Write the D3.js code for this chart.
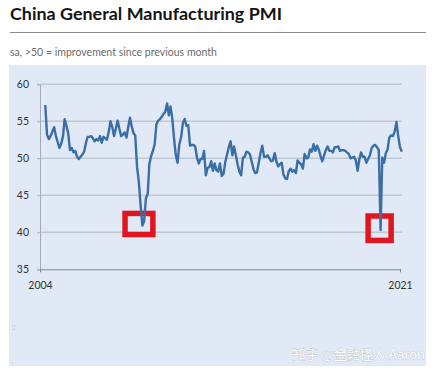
<!DOCTYPE html>
<html>
<head>
<meta charset="utf-8">
<script src="https://cdn.jsdelivr.net/npm/d3@7"></script>
<style>
  html, body { margin: 0; padding: 0; background: #fff; }
  svg { display: block; }
</style>
</head>
<body>
<svg id="chart" width="437" height="374"></svg>
<script>
// monthly PMI, first reading is April 2004, last is Feb 2021
const START_YEAR = 2004;
const START_MONTH = 3; // 0-based, April

const pmiValues = [
  // 2004 (Apr-Dec)
  57.2, 53.2, 52.6, 53.0, 53.6, 54.2, 53.0, 52.2, 51.4,
  // 2005
  52.0, 53.0, 55.3, 54.4, 53.4, 51.1, 51.4, 50.8, 51.0, 50.2, 49.9, 50.2,
  // 2006
  50.5, 50.9, 52.0, 52.9, 52.9, 53.0, 52.7, 52.3, 52.6, 52.4, 53.0, 52.1,
  // 2007
  52.9, 52.7, 52.5, 53.6, 55.0, 54.2, 53.0, 54.0, 55.1, 54.0, 53.0, 53.2,
  // 2008
  53.5, 52.8, 54.2, 55.5, 54.3, 53.4, 53.1, 48.8, 46.8, 43.7, 40.9, 41.5,
  // 2009
  44.6, 45.2, 49.2, 50.3, 51.0, 51.9, 54.6, 55.1, 55.3, 55.6, 56.0, 56.3,
  // 2010
  57.4, 55.8, 57.0, 55.4, 52.7, 50.4, 49.4, 51.9, 52.9, 54.8, 55.3, 54.4,
  // 2011
  54.5, 51.7, 51.8, 51.8, 51.6, 50.1, 49.3, 49.9, 49.9, 51.0, 47.7, 48.7,
  // 2012
  48.8, 49.6, 48.3, 49.3, 48.4, 48.2, 49.3, 47.6, 47.9, 49.5, 50.5, 51.5,
  // 2013
  52.3, 50.4, 51.6, 50.4, 49.2, 48.2, 47.7, 50.1, 50.2, 50.9, 50.8, 50.5,
  // 2014
  49.5, 48.5, 48.0, 48.1, 49.4, 50.7, 51.7, 50.2, 50.2, 50.4, 50.0, 49.6,
  // 2015
  49.7, 50.7, 49.6, 48.9, 49.2, 49.4, 47.8, 47.3, 47.2, 48.3, 48.6, 48.2,
  // 2016
  48.4, 48.0, 49.7, 49.4, 49.2, 48.6, 50.6, 50.0, 50.1, 51.2, 50.9, 51.9,
  // 2017
  51.0, 51.7, 51.2, 50.3, 49.6, 50.4, 51.1, 51.6, 51.0, 51.0, 50.8, 51.5,
  // 2018
  51.5, 51.6, 51.0, 51.1, 51.1, 51.0, 50.8, 50.6, 50.0, 50.1, 50.2, 49.7,
  // 2019
  48.3, 49.9, 50.8, 50.2, 50.2, 49.4, 49.9, 50.4, 51.4, 51.7, 51.8, 51.5,
  // 2020
  51.1, 40.3, 50.1, 49.4, 50.7, 51.2, 52.8, 53.1, 53.0, 53.6, 54.9, 53.0,
  // 2021
  51.5, 50.9,
];

const yTicks = [35, 40, 45, 50, 55, 60];
const xTickYears = [2004, 2021];

// red boxes drawn over the two lows (date range + value range)
const highlightBoxes = [
  { from: [2008, 0, 7], to: [2009, 4, 1], low: 39.7, high: 42.55 },
  { from: [2019, 6, 1], to: [2020, 7, 1], low: 38.9, high: 42.2 },
];

const titleText = 'China General Manufacturing PMI';
const subtitleText = 'sa, >50 = improvement since previous month';
const watermarkText = '知乎 @金融怪人 Aaron';

const data = pmiValues.map((v, i) => ({
  date: new Date(START_YEAR, START_MONTH + i, 1),
  value: v,
}));

const svg = d3.select('#chart');

// header
svg.append('text')
  .attr('x', 10)
  .attr('y', 19.5)
  .attr('font-family', 'Lato, "Open Sans", sans-serif')
  .attr('font-weight', 'bold')
  .attr('font-size', 16.8)
  .attr('fill', '#141414')
  .attr('textLength', 272)
  .attr('lengthAdjust', 'spacingAndGlyphs')
  .text(titleText);

svg.append('line')
  .attr('x1', 10).attr('x2', 426)
  .attr('y1', 32.5).attr('y2', 32.5)
  .attr('stroke', '#8c8c8c')
  .attr('stroke-width', 1);

svg.append('text')
  .attr('x', 10)
  .attr('y', 56)
  .attr('font-family', 'Lato, "Open Sans", sans-serif')
  .attr('font-size', 10.5)
  .attr('fill', '#6b6b6b')
  .attr('textLength', 207)
  .attr('lengthAdjust', 'spacingAndGlyphs')
  .text(subtitleText);

// panel
svg.append('rect')
  .attr('x', 9).attr('y', 65)
  .attr('width', 417).attr('height', 301)
  .attr('fill', '#e0e9f5');

const x = d3.scaleTime()
  .domain([new Date(2004, 0, 1), new Date(2021, 0, 1)])
  .range([40, 400]);

const y = d3.scaleLinear()
  .domain([35, 60])
  .range([269.3, 84.3]);

// grid
svg.append('g')
  .selectAll('line')
  .data(yTicks.filter(t => t !== 35))
  .join('line')
  .attr('x1', 40).attr('x2', 402)
  .attr('y1', d => y(d)).attr('y2', d => y(d))
  .attr('stroke', '#c2c8d1')
  .attr('stroke-width', 1.5);

// y axis
const yAxis = svg.append('g')
  .attr('transform', 'translate(40,0)')
  .call(d3.axisLeft(y).tickValues(yTicks).tickSize(3).tickPadding(8));
yAxis.select('.domain').attr('stroke', '#a3abb6');
yAxis.selectAll('.tick line').attr('stroke', '#a3abb6');
yAxis.selectAll('text')
  .attr('font-family', 'Lato, "Open Sans", sans-serif')
  .attr('font-size', 10.5)
  .attr('fill', '#333');

// x axis
const xAxis = svg.append('g')
  .attr('transform', `translate(0,${y(35)})`)
  .call(d3.axisBottom(x)
    .tickValues(xTickYears.map(yr => new Date(yr, 0, 1)))
    .tickFormat(d3.timeFormat('%Y'))
    .tickSize(3)
    .tickPadding(9));
xAxis.select('.domain').attr('stroke', '#7d8894').attr('d', `M40,0.5H401`);
xAxis.selectAll('.tick line').attr('stroke', '#7d8894');
xAxis.selectAll('text')
  .attr('font-family', 'Lato, "Open Sans", sans-serif')
  .attr('font-size', 10.5)
  .attr('fill', '#333');

// red annotation boxes
svg.append('g')
  .selectAll('rect')
  .data(highlightBoxes)
  .join('rect')
  .attr('x', d => x(new Date(...d.from)))
  .attr('y', d => y(d.high))
  .attr('width', d => x(new Date(...d.to)) - x(new Date(...d.from)))
  .attr('height', d => y(d.low) - y(d.high))
  .attr('fill', 'none')
  .attr('stroke', '#e0161e')
  .attr('stroke-width', 5.5);

// pmi line
const line = d3.line()
  .x(d => x(d.date))
  .y(d => y(d.value));

svg.append('path')
  .datum(data)
  .attr('d', line)
  .attr('fill', 'none')
  .attr('stroke', '#3a6ea6')
  .attr('stroke-width', 2.4)
  .attr('stroke-linejoin', 'round');

// tiny leftover mark on the left edge of the panel
svg.append('text')
  .attr('x', 13)
  .attr('y', 330)
  .attr('font-family', 'Lato, sans-serif')
  .attr('font-size', 9)
  .attr('fill', '#b0b6bf')
  .text(':');

// watermark
svg.append('text')
  .attr('x', 425)
  .attr('y', 359)
  .attr('text-anchor', 'end')
  .attr('font-family', '"Noto Sans CJK SC", sans-serif')
  .attr('font-size', 13)
  .attr('fill', '#ffffff')
  .attr('stroke', '#8e97a2')
  .attr('stroke-width', 0.5)
  .attr('stroke-opacity', 0.75)
  .attr('paint-order', 'stroke')
  .text(watermarkText);
</script>
</body>
</html>
